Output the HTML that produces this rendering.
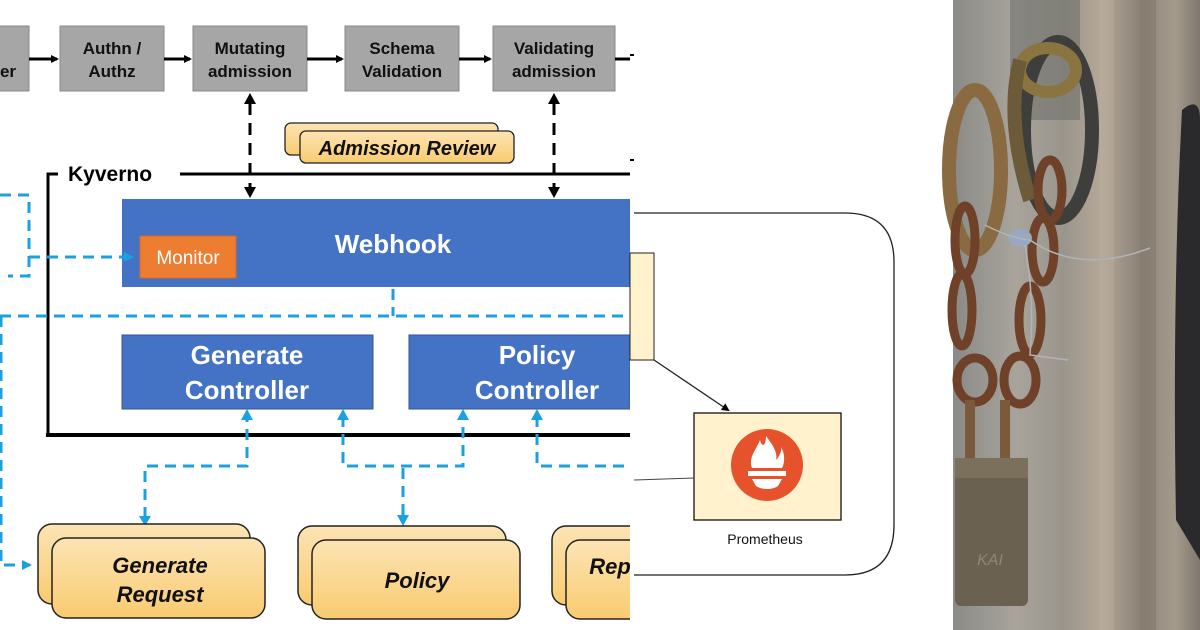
<!DOCTYPE html>
<html><head><meta charset="utf-8"><style>
html,body{margin:0;padding:0;background:#fff;width:1200px;height:630px;overflow:hidden}
svg{display:block}
text{font-family:"Liberation Sans",sans-serif}
</style></head><body>
<svg width="1200" height="630" viewBox="0 0 1200 630" xmlns="http://www.w3.org/2000/svg">
<defs>
<marker id="ab" markerWidth="8" markerHeight="8" refX="6" refY="4" orient="auto" markerUnits="userSpaceOnUse"><path d="M0,0 L8,4 L0,8 z" fill="#000"/></marker>
<marker id="abl" markerWidth="10" markerHeight="10" refX="8" refY="5" orient="auto" markerUnits="userSpaceOnUse"><path d="M0,0 L10,5 L0,10 z" fill="#1BA1E2"/></marker>
<linearGradient id="og" x1="0" y1="0" x2="0" y2="1"><stop offset="0" stop-color="#FCE4B4"/><stop offset="1" stop-color="#F9CB70"/></linearGradient>
<linearGradient id="wood" x1="0" y1="0" x2="1" y2="0">
<stop offset="0" stop-color="#8a8a86"/><stop offset="0.25" stop-color="#a8a49c"/><stop offset="0.45" stop-color="#9a958c"/><stop offset="0.6" stop-color="#b4a898"/><stop offset="0.75" stop-color="#8d8478"/><stop offset="0.9" stop-color="#a49a8c"/><stop offset="1" stop-color="#7f776d"/></linearGradient>
</defs>

<g fill="#A6A6A6" stroke="#888" stroke-width="1">
<rect x="-5" y="26" width="34" height="65"/>
<rect x="60" y="26" width="104" height="65"/>
<rect x="193" y="26" width="114" height="65"/>
<rect x="345" y="26" width="114" height="65"/>
<rect x="493" y="26" width="122" height="65"/>
</g>
<g font-weight="bold" font-size="17" text-anchor="middle" fill="#111">
<text x="8" y="77">er</text>
<text x="112" y="54">Authn /</text><text x="112" y="77">Authz</text>
<text x="250" y="54">Mutating</text><text x="250" y="77">admission</text>
<text x="402" y="54">Schema</text><text x="402" y="77">Validation</text>
<text x="554" y="54">Validating</text><text x="554" y="77">admission</text>
</g>
<g stroke="#000" stroke-width="3" marker-end="url(#ab)">
<line x1="29" y1="59" x2="57" y2="59"/>
<line x1="164" y1="59" x2="190" y2="59"/>
<line x1="307" y1="59" x2="342" y2="59"/>
<line x1="459" y1="59" x2="490" y2="59"/>
</g>
<line x1="615" y1="59" x2="630" y2="59" stroke="#000" stroke-width="3"/>

<g stroke="#000" stroke-width="3" stroke-dasharray="12,8">
<line x1="250" y1="103" x2="250" y2="188"/>
<line x1="554" y1="103" x2="554" y2="188"/>
</g>
<g fill="#000">
<path d="M244,104 L250,93 L256,104 z"/><path d="M244,187 L250,198 L256,187 z"/>
<path d="M548,104 L554,93 L560,104 z"/><path d="M548,187 L554,198 L560,187 z"/>
</g>

<rect x="285" y="123" width="213" height="32" rx="6" fill="url(#og)" stroke="#222" stroke-width="1.3"/>
<rect x="300" y="131" width="214" height="32" rx="6" fill="url(#og)" stroke="#222" stroke-width="1.3"/>
<text x="407" y="155" font-size="20" font-weight="bold" font-style="italic" text-anchor="middle" fill="#111">Admission Review</text>

<path d="M48,435 L48,174 L58,174 M180,174 L630,174" fill="none" stroke="#000" stroke-width="3"/>
<line x1="46" y1="435" x2="630" y2="435" stroke="#000" stroke-width="4"/>
<text x="68" y="181" font-size="21" font-weight="bold" fill="#000">Kyverno</text>

<rect x="122" y="199" width="508" height="88" fill="#4472C4"/>
<text x="393" y="253" font-size="26" font-weight="bold" fill="#fff" text-anchor="middle">Webhook</text>
<rect x="140" y="236" width="96" height="42" fill="#ED7D31" stroke="#E06A20"/>
<text x="188" y="264" font-size="19" fill="#fff" text-anchor="middle">Monitor</text>

<rect x="122" y="335" width="251" height="74" fill="#4472C4" stroke="#2f5597"/>
<text x="247" y="364" font-size="26" font-weight="bold" fill="#fff" text-anchor="middle">Generate</text>
<text x="247" y="399" font-size="26" font-weight="bold" fill="#fff" text-anchor="middle">Controller</text>
<rect x="409" y="335" width="221" height="74" fill="#4472C4" stroke="#2f5597"/>
<text x="537" y="364" font-size="26" font-weight="bold" fill="#fff" text-anchor="middle">Policy</text>
<text x="537" y="399" font-size="26" font-weight="bold" fill="#fff" text-anchor="middle">Controller</text>

<g fill="none" stroke="#1BA1E2" stroke-width="3" stroke-dasharray="11,7">
<path d="M0,195 L29,195 L29,276 L8,276"/>
<path d="M29,257 L132,257" marker-end="url(#abl)"/>
<path d="M393,289 L393,316"/>
<path d="M0,316 L630,316"/>
<path d="M1,316 L1,565 L30,565" marker-end="url(#abl)"/>
<path d="M145,518 L145,466 L247,466 L247,416"/>
<path d="M343,416 L343,466 L463,466 L463,416"/>
<path d="M403,468 L403,518"/>
<path d="M537,416 L537,466 L630,466"/>
</g>
<g fill="#1BA1E2">
<path d="M139,516 L145,526 L151,516 z"/>
<path d="M397,515 L403,526 L409,515 z"/>
<path d="M241,420 L247,409 L253,420 z"/>
<path d="M337,420 L343,409 L349,420 z"/>
<path d="M457,420 L463,409 L469,420 z"/>
<path d="M531,420 L537,409 L543,420 z"/>
</g>

<g stroke="#222" stroke-width="1.5" fill="url(#og)">
<rect x="38" y="524" width="212" height="80" rx="14"/>
<rect x="52" y="538" width="213" height="80" rx="14"/>
<rect x="298" y="526" width="208" height="79" rx="14"/>
<rect x="312" y="540" width="208" height="79" rx="14"/>
<rect x="552" y="526" width="100" height="79" rx="14"/>
<rect x="566" y="540" width="100" height="79" rx="14"/>
</g>
<g font-size="22" font-weight="bold" font-style="italic" fill="#111" text-anchor="middle">
<text x="160" y="573">Generate</text><text x="160" y="602">Request</text>
<text x="417" y="588">Policy</text>
<text x="610" y="574">Rep</text>
</g>

<rect x="630" y="0" width="323" height="630" fill="#fff"/>
<g stroke="#000" stroke-width="2"><line x1="630" y1="55" x2="634" y2="55"/><line x1="630" y1="160" x2="634" y2="160"/></g>
<path d="M634,213 L845,213 Q894,213 894,262 L894,525 Q894,575 845,575 L634,575" fill="none" stroke="#222" stroke-width="1.3"/>
<rect x="630" y="253" width="24" height="107" fill="#FFF2CC" stroke="#222" stroke-width="1"/>
<line x1="654" y1="360" x2="728" y2="410" stroke="#222" stroke-width="1.3" marker-end="url(#ab)"/>
<rect x="694" y="413" width="147" height="107" fill="#FFF2CC" stroke="#111" stroke-width="1.3"/>
<line x1="634" y1="480" x2="694" y2="478" stroke="#444" stroke-width="1"/>
<circle cx="767" cy="465" r="36" fill="#E6522C"/>
<path d="M752,468 C748,458 756,450 760,440 C762,448 766,446 766,436 C772,444 778,452 776,460 C780,456 782,450 781,447 C786,455 784,465 782,468 z" fill="#fff"/>
<rect x="748" y="471" width="38" height="5" fill="#fff"/>
<path d="M752,479 L782,479 L778,486 C772,490 762,490 756,486 z" fill="#fff"/>
<text x="765" y="544" font-size="14" fill="#111" text-anchor="middle">Prometheus</text>

<rect x="953" y="0" width="247" height="630" fill="url(#wood)"/>
<rect x="1010" y="0" width="70" height="120" fill="#6f716c" opacity="0.6"/>
<rect x="1100" y="0" width="14" height="630" fill="#b8ad9c" opacity="0.5"/>
<rect x="1140" y="0" width="16" height="630" fill="#7d7366" opacity="0.5"/>
<path d="M1182,110 Q1200,95 1200,120 L1200,560 L1176,520 Q1172,300 1182,110 z" fill="#2a2a2c"/>
<ellipse cx="1058" cy="130" rx="34" ry="88" fill="none" stroke="#3e3f3d" stroke-width="14"/>
<ellipse cx="1048" cy="70" rx="28" ry="22" fill="none" stroke="#8a7440" stroke-width="12"/>
<path d="M1020,60 Q1005,120 1030,200" fill="none" stroke="#6c5a38" stroke-width="14"/>
<ellipse cx="975" cy="170" rx="26" ry="80" fill="none" stroke="#8a6a40" stroke-width="14"/>
<g fill="none" stroke="#6e4128" stroke-width="9">
<ellipse cx="1050" cy="190" rx="12" ry="30"/><ellipse cx="1043" cy="250" rx="11" ry="32"/>
<ellipse cx="1030" cy="320" rx="11" ry="34"/><ellipse cx="1020" cy="380" rx="16" ry="24"/>
<ellipse cx="965" cy="240" rx="10" ry="34"/><ellipse cx="962" cy="310" rx="10" ry="36"/>
<ellipse cx="975" cy="380" rx="18" ry="22"/>
</g>
<ellipse cx="1020" cy="238" rx="12" ry="9" fill="#9aa8bf"/>
<path d="M985,225 Q1010,238 1030,240 Q1080,275 1150,248 M1025,245 Q1035,300 1030,355 L1068,360" fill="none" stroke="#b0b4b8" stroke-width="1.5"/>
<path d="M970,400 L970,470 M1005,400 L1005,462" stroke="#7a5a3a" stroke-width="10"/>
<rect x="955" y="458" width="73" height="148" rx="6" fill="#6a6150"/>
<rect x="955" y="458" width="73" height="20" fill="#7a705c"/>
<text x="990" y="565" font-size="16" fill="#8f8670" text-anchor="middle" font-style="italic">KAI</text>
</svg>
</body></html>
